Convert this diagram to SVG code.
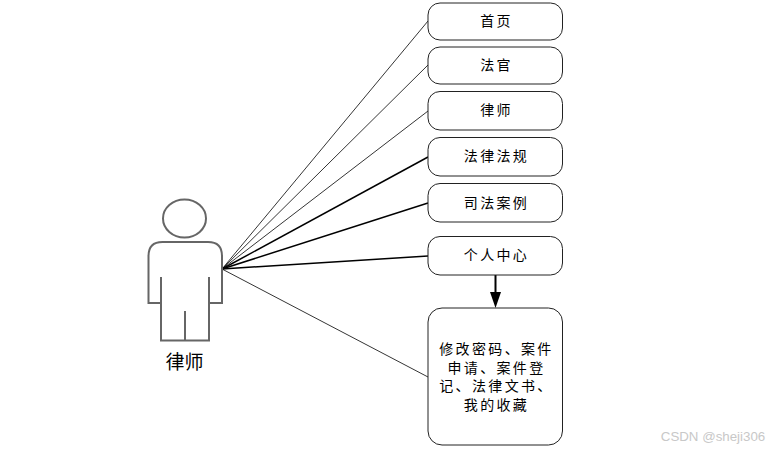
<svg xmlns="http://www.w3.org/2000/svg" width="777" height="450" viewBox="0 0 777 450">
<style>
.box{fill:#fff;stroke:#222;stroke-width:1}
.t{font-family:"Noto Sans CJK SC","Liberation Sans",sans-serif;font-size:14px;letter-spacing:2.35px;text-anchor:middle;fill:#000}
.c{stroke:#000;fill:none}
.a{fill:none;stroke:#666;stroke-width:2}
</style>
<rect width="777" height="450" fill="#fff"/>
<g id="connectors">
<line class="c" x1="222" y1="269" x2="428" y2="21" stroke-width="0.8"/>
<line class="c" x1="222" y1="269" x2="428" y2="65" stroke-width="0.8"/>
<line class="c" x1="222" y1="269" x2="428" y2="111" stroke-width="0.8"/>
<line class="c" x1="222" y1="269" x2="428" y2="157" stroke-width="1.5"/>
<line class="c" x1="222" y1="269" x2="428" y2="203" stroke-width="1.5"/>
<line class="c" x1="222" y1="269" x2="428" y2="256" stroke-width="1.5"/>
<line class="c" x1="222" y1="269" x2="428" y2="377" stroke-width="0.8"/>
<line class="c" x1="495.500" y1="275" x2="495.500" y2="294" stroke-width="2"/>
<polygon points="490,292 501,292 495.500,308" fill="#000"/>
</g>
<g id="actor">
<ellipse class="a" cx="184.500" cy="218.500" rx="21.500" ry="19"/>
<path class="a" d="M161,277V303H148.500V256Q148.500,242 162.500,242H208Q222,242 222,256V303H209V277M161,303V340.500H209V303M185,311V340.500"/>
<text x="184.500" y="369" font-family="'Noto Sans CJK SC',sans-serif" font-size="19" text-anchor="middle" fill="#000">律师</text>
</g>
<g id="node-home"><rect class="box" x="428" y="3" width="134.500" height="37" rx="12"/><text class="t" x="496.500" y="26">首页</text></g>
<g id="node-judge"><rect class="box" x="428" y="47" width="134.500" height="37" rx="12"/><text class="t" x="496.500" y="70">法官</text></g>
<g id="node-lawyer"><rect class="box" x="428" y="91.500" width="134.500" height="38.500" rx="12"/><text class="t" x="496.500" y="115">律师</text></g>
<g id="node-laws"><rect class="box" x="428" y="137.500" width="134.500" height="38.500" rx="12"/><text class="t" x="496.500" y="161">法律法规</text></g>
<g id="node-cases"><rect class="box" x="428" y="183.500" width="134.500" height="38.500" rx="12"/><text class="t" x="496.500" y="207.500">司法案例</text></g>
<g id="node-personal"><rect class="box" x="428" y="236.500" width="134.500" height="38.500" rx="12"/><text class="t" x="496.500" y="260">个人中心</text></g>
<g id="node-detail"><rect class="box" x="428" y="308" width="134.500" height="137" rx="14"/>
<text class="t" x="496.500" y="353.500">修改密码、案件</text>
<text class="t" x="496.500" y="372.500">申请、案件登</text>
<text class="t" x="496.500" y="391">记、法律文书、</text>
<text class="t" x="496.500" y="410">我的收藏</text></g>
<text x="713" y="441" font-family="'Liberation Sans',sans-serif" font-size="13.300" text-anchor="middle" fill="#c8c8c8">CSDN @sheji306</text>
</svg>
